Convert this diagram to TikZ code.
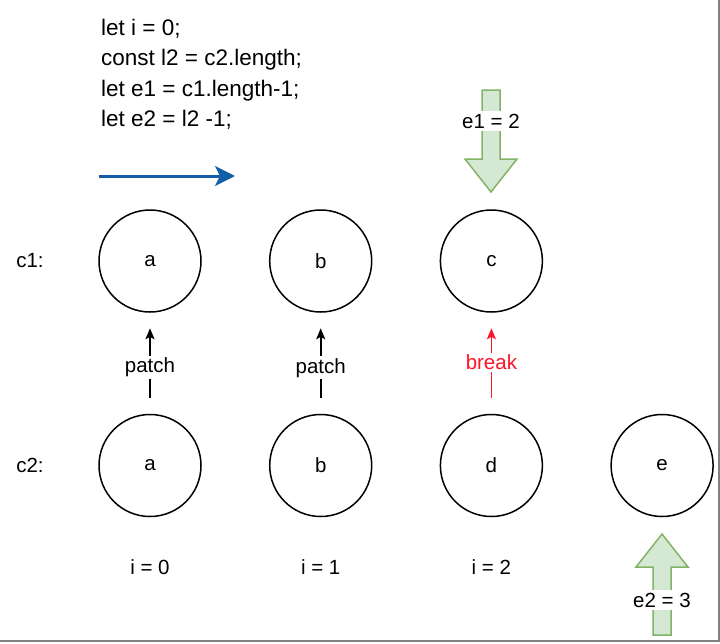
\documentclass[tikz,border=0pt]{standalone}
\usepackage{fontspec}
\setmainfont{Liberation Sans}
\usetikzlibrary{positioning, arrows.meta}
\definecolor{codeblue}{RGB}{20,94,168}
\definecolor{greenfill}{HTML}{D5E8D4}
\definecolor{greenline}{HTML}{82B366}
\definecolor{breakred}{RGB}{255,20,40}
\definecolor{framegray}{RGB}{128,128,128}

\begin{document}
\begin{tikzpicture}[x=1pt,y=-1pt,
	circ/.style={draw, circle, line width=1.5pt, minimum size=102pt, outer sep=0pt, inner sep=0pt, font=\fontsize{20.5}{24}\selectfont},
	lbl/.style={font=\fontsize{20.5}{24}\selectfont, inner sep=2pt},
	code/.style={font=\fontsize{22.5}{31}\selectfont, anchor=base west, inner sep=0pt},
	patcharrow/.style={line width=1.8pt, -{Stealth[length=11pt,width=9pt,inset=2.5pt]}},
	bigarrow/.style={fill=greenfill, draw=greenline, line width=1.5pt, line join=miter}
	]
	\useasboundingbox (0,0) rectangle (720,643);
	\draw[framegray, line width=1.8pt] (718.8,0) -- (718.8,640.8) -- (0,640.8);

	\node[code] (l1) at (101,35) {let i = 0;};
	\node[code] (l2) at (101,65.5) {const l2 = c2.length;};
	\node[code] (l3) at (101,96) {let e1 = c1.length-1;};
	\node[code] (l4) at (101,126.5) {let e2 = l2 -1;};

	\coordinate (bs) at (99,176);
	\coordinate (be) at (235,176);
	\draw[codeblue, line width=3pt, -{Stealth[length=20pt,width=20pt,inset=5pt]}] (bs) -- (be);

	\draw node (a1)[circ] at (150,261) {a};
	\draw node (b1)[circ, right=68.7pt of a1] {b};
	\draw node (c1)[circ, right=68.7pt of b1] {c};
	\draw node (a2)[circ, below=102.5pt of a1] {a};
	\draw node (b2)[circ, below=102.5pt of b1] {b};
	\draw node (d2)[circ, below=102.5pt of c1] {d};
	\draw node (e2)[circ, right=68.7pt of d2] {e};

	\node[lbl] (r1) at (30,261) {c1:};
	\node[lbl] (r2) at (30,465.5) {c2:};

	\draw[patcharrow] ([yshift=17pt]a2.north) -- node[lbl, fill=white, pos=0.44]{patch} ([yshift=-16.3pt]a1.south);
	\draw[patcharrow] ([yshift=17pt]b2.north) -- node[lbl, fill=white, pos=0.43]{patch} ([yshift=-16.3pt]b1.south);
	\draw[patcharrow, breakred] ([yshift=17pt]d2.north) -- node[lbl, fill=white, pos=0.51]{break} ([yshift=-16.3pt]c1.south);

	\node[lbl] (i0) at (150,567) {i = 0};
	\node[lbl] (i1) at (320.7,567) {i = 1};
	\node[lbl] (i2) at (491.4,567) {i = 2};

	\draw[bigarrow] (482,90) -- (500,90) -- (500,159) -- (517,159) -- (491,192) -- (465,159) -- (482,159) -- cycle;
	\node[lbl, fill=white, inner sep=3pt] (eone) at (491,121) {e1 = 2};
	\draw[bigarrow] (653,635) -- (671,635) -- (671,567) -- (688,567) -- (662,534) -- (636,567) -- (653,567) -- cycle;
	\node[lbl, fill=white, inner sep=3pt] (etwo) at (662,600) {e2 = 3};
\end{tikzpicture}
\end{document}
